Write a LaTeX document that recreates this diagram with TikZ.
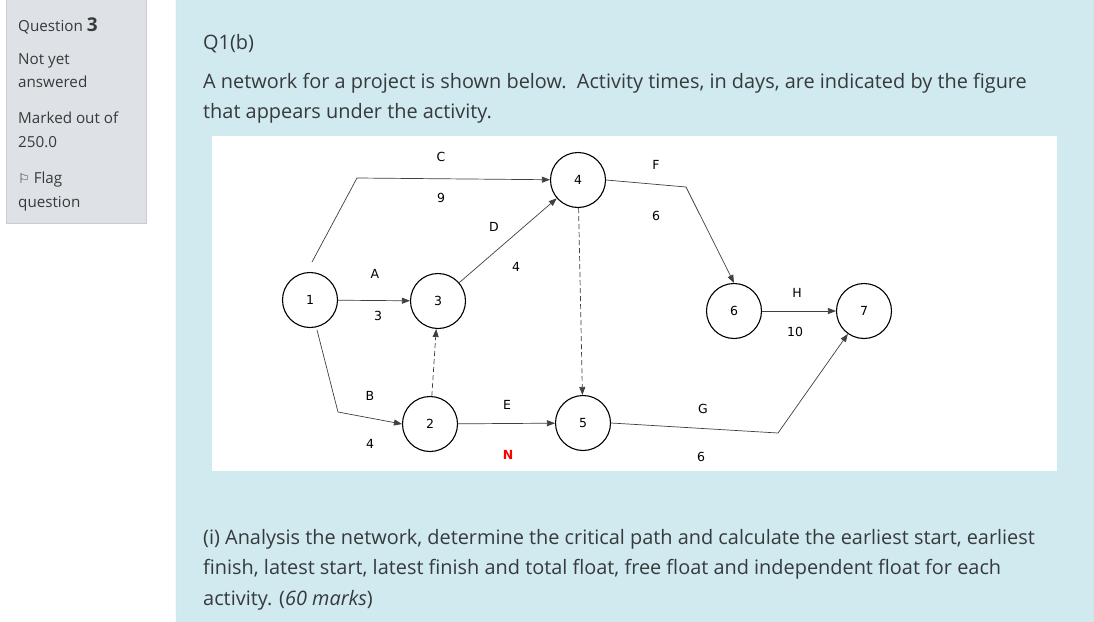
\documentclass[tikz,border=0pt]{standalone}
\usepackage{fontspec}
\setmainfont{Open Sans}
\newfontfamily\dvs{DejaVu Sans}
\usetikzlibrary{arrows.meta}
\definecolor{panel}{HTML}{D0EAF0}
\definecolor{panelb}{HTML}{B9DDE6}
\definecolor{side}{HTML}{DEE2E6}
\definecolor{sideb}{HTML}{C8CDD2}
\definecolor{txt}{HTML}{373A3C}
\tikzset{
  ev/.style={circle,draw,line width=1.1pt,minimum size=55pt,inner sep=0pt,font=\dvs\fontsize{12.5}{14}\selectfont},
  lbl/.style={font=\dvs\fontsize{12.5}{14}\selectfont},
  act/.style={draw=black!75,line width=0.7pt,-{Triangle[length=8pt,width=6pt]}},
  dum/.style={act,dash pattern=on 5pt off 3pt},
  side/.style={anchor=base west,inner sep=0pt,font=\fontsize{15.2}{18}\selectfont,text=txt},
  body/.style={anchor=base west,inner sep=0pt,font=\fontsize{19.9}{22}\selectfont,text=txt}
}
\begin{document}
\begin{tikzpicture}[x=1pt,y=-1pt]
\useasboundingbox (0,0) rectangle (1094,621);
\fill[white] (0,0) rectangle (1094,621);
\draw[fill=side,draw=sideb] (6,-2) rectangle (146,223);
\node[side] (q) at (18,31) {Question \textbf{\fontsize{19}{20}\selectfont 3}};
\node[side] (s1) at (18,64) {Not yet};
\node[side] (s2) at (18,87) {answered};
\node[side] (s3) at (18,123) {Marked out of};
\node[side] (s4) at (18,147) {250.0};
\node[side] (s5) at (18,183) {{\dvs\fontsize{13}{14}\selectfont ⚐} Flag};
\node[side] (s6) at (18,207) {question};
\draw[fill=panel,draw=panelb,rounded corners=3pt] (176,-4) rectangle (1094,625);
\node[body] (t0) at (203,49) {Q1(b)};
\node[body] (t1) at (203,88) {A network for a project is shown below.\ \ Activity times, in days, are indicated by the figure};
\node[body] (t2) at (203,118) {that appears under the activity.};
\node[body] (t3) at (203,544) {(i) Analysis the network, determine the critical path and calculate the earliest start, earliest};
\node[body] (t4) at (203,574) {finish, latest start, latest finish and total float, free float and independent float for each};
\node[body] (t5) at (203,605) {activity. (\textit{60 marks})};
\fill[white] (212,136) rectangle (1057,471);
\node[ev] (n1) at (310,300) {1};
\node[ev] (n3) at (438,301) {3};
\node[ev] (n4) at (578,180) {4};
\node[ev] (n2) at (430,424) {2};
\node[ev] (n5) at (583,423) {5};
\node[ev] (n6) at (734,311) {6};
\node[ev] (n7) at (864,311) {7};
\coordinate (c1) at (312,262); \coordinate (c2) at (357,178);
\coordinate (f1) at (686,187); \coordinate (b1) at (317,330); \coordinate (b2) at (338,412);
\coordinate (g1) at (778,433);
\draw[act] (c1) -- (c2) -- (n4);
\draw[act] (n4.east) -- (f1) -- (n6.north);
\draw[act] (n1) -- (n3);
\draw[act] (b1) -- (b2) -- (n2.west);
\draw[act] (n3) -- (n4);
\draw[act] (n2) -- (n5);
\draw[act] (n6) -- (n7);
\draw[draw=black!75,line width=0.7pt] (n5.east) -- (g1);
\draw[act] (g1) -- (n7);
\draw[dum] (n2) -- (n3);
\draw[dum] (n4) -- (n5);
\node[lbl] (lC) at (441,157) {C};
\node[lbl] (l9) at (441,198) {9};
\node[lbl] (lF) at (656,165) {F};
\node[lbl] (l6a) at (656,216) {6};
\node[lbl] (lD) at (494,227) {D};
\node[lbl] (l4a) at (516,267) {4};
\node[lbl] (lA) at (375,274) {A};
\node[lbl] (l3) at (378,316) {3};
\node[lbl] (lB) at (370,396) {B};
\node[lbl] (l4b) at (370,444) {4};
\node[lbl] (lE) at (507,405) {E};
\node[lbl,text=red,font=\dvs\bfseries\fontsize{12.5}{14}\selectfont] (lN) at (508,455) {N};
\node[lbl] (lG) at (703,409) {G};
\node[lbl] (l6b) at (701,457) {6};
\node[lbl] (lH) at (797,293) {H};
\node[lbl] (l10) at (795,332) {10};
\end{tikzpicture}
\end{document}
